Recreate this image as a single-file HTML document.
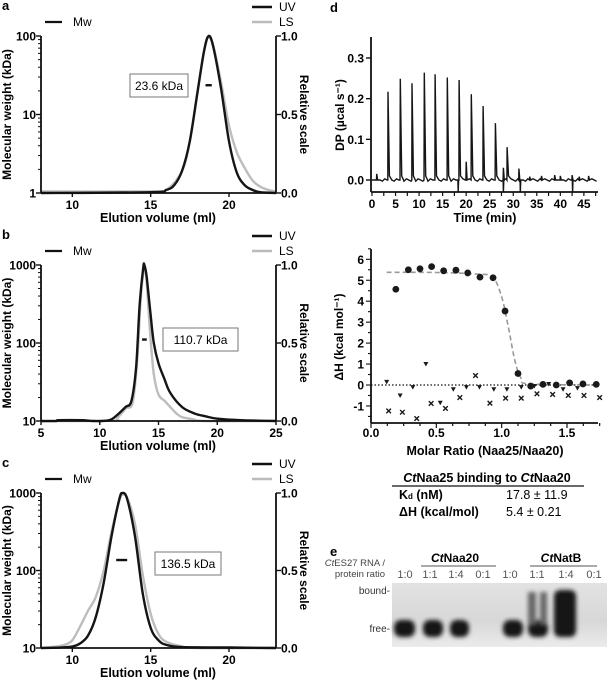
<!DOCTYPE html>
<html><head><meta charset="utf-8">
<style>
html,body{margin:0;padding:0;background:#fff;}
svg{display:block;font-family:"Liberation Sans",Arial,sans-serif;}
.b{font-weight:bold;}
</style></head>
<body>
<svg id="fig" width="607" height="685" viewBox="0 0 607 685" xmlns="http://www.w3.org/2000/svg">
<defs>
<linearGradient id="gelg" x1="0" y1="0" x2="0" y2="1">
<stop offset="0" stop-color="#e2e2e2"/><stop offset="0.6" stop-color="#d8d8d8"/><stop offset="1" stop-color="#ebebeb"/>
</linearGradient>
<filter id="blur" x="-30%" y="-30%" width="160%" height="160%"><feGaussianBlur stdDeviation="2"/></filter>
</defs>
</svg>
<script>
// ---------- DATA ----------
const aUV=[[8,0],[15,0.005],[16,0.02],[16.5,0.05],[17,0.14],[17.5,0.33],[18,0.65],[18.4,0.9],[18.7,1.0],[19,0.93],[19.5,0.66],[20,0.33],[20.5,0.13],[21,0.05],[21.5,0.02],[22,0.005],[23,0]];
const aLS=[[8,0.01],[15,0.01],[16,0.02],[17,0.14],[17.5,0.33],[18,0.65],[18.5,0.95],[18.7,0.99],[19,0.94],[19.5,0.7],[20,0.43],[20.5,0.26],[21,0.16],[21.5,0.08],[22,0.04],[22.5,0.02],[23,0.01]];
const aMw=[[18.5,23.6],[18.9,23.6]];
const bUV=[[5,0],[6.3,0],[6.5,0.005],[8.5,0.005],[9.5,0],[10.8,0.005],[11.5,0.04],[12.2,0.09],[12.7,0.13],[13.1,0.35],[13.4,0.75],[13.7,0.98],[13.8,1.0],[14.0,0.92],[14.3,0.7],[14.6,0.5],[15,0.37],[15.5,0.27],[16,0.18],[17,0.09],[18,0.05],[19,0.03],[20,0.015],[22,0.005],[25,0]];
const bLS=[[5,0],[11,0.002],[11.5,0.02],[12.2,0.08],[12.8,0.12],[13.2,0.4],[13.5,0.8],[13.8,0.98],[14.0,0.88],[14.3,0.55],[14.6,0.3],[15,0.17],[15.5,0.13],[16,0.09],[16.5,0.05],[17,0.025],[18,0.01],[19,0],[25,0]];
const bMw=[[13.6,110.7],[14.0,110.7]];
const cUV=[[8,0],[9,0.002],[10,0.01],[10.5,0.03],[11,0.08],[11.5,0.2],[12,0.42],[12.5,0.72],[13,0.96],[13.2,1.0],[13.5,0.96],[14,0.72],[14.5,0.35],[15,0.13],[15.5,0.05],[16,0.02],[17,0.006],[20,0.003],[23,0]];
const cLS=[[8,0],[9,0.01],[9.5,0.02],[10,0.05],[10.5,0.14],[11,0.24],[11.5,0.33],[12,0.5],[12.5,0.75],[13,0.95],[13.2,0.99],[13.5,0.97],[14,0.8],[14.5,0.47],[15,0.22],[15.5,0.09],[16,0.04],[17,0.01],[18,0],[23,0]];
const cMw=[[12.8,136.5],[13.5,136.5]];
const injTimes=[3.4,6.0,8.5,11.1,13.4,16.0,18.5,21.1,23.6,26.2,28.7];
const injPeaks=[0.217,0.249,0.238,0.264,0.260,0.252,0.246,0.211,0.182,0.140,0.081];
const smallSpikeTimes=[1.0,20.0,27.9,31.2,33.5,36.0,38.8,40.0,42.5,44.0,46.0];
const smallSpikeVals=[0.015,0.045,0.03,0.028,0.008,0.01,0.012,0.01,0.012,0.008,0.01];
const negSpikeTimes=[18.3,27.9,31.5,42.6];
const negSpikeVals=[-0.03,-0.03,-0.03,-0.03];
const dpTicks=[0,5,10,15,20,25,30,35,40,45];
const isoX=[0.19,0.286,0.375,0.464,0.556,0.65,0.74,0.834,0.934,1.026,1.125,1.222,1.316,1.418,1.52,1.622,1.724];
const isoY=[4.57,5.5,5.55,5.65,5.45,5.48,5.35,5.15,5.12,3.53,0.55,-0.05,0.03,0.0,0.1,0.05,0.03];
const triX=[0.12,0.223,0.32,0.42,0.53,0.63,0.73,0.83,0.94,1.04,1.15,1.25,1.36,1.47,1.58];
const triY=[0.15,-0.5,-0.1,1.0,-0.85,-0.2,-0.1,-0.1,-0.2,-0.2,-0.1,-0.05,0.05,-0.2,-0.15];
const crossX=[0.135,0.24,0.35,0.46,0.57,0.68,0.8,0.91,1.03,1.15,1.27,1.39,1.51,1.63,1.75];
const crossY=[-1.24,-1.3,-1.6,-0.88,-1.12,-0.6,0.45,-0.87,-0.63,-0.63,-0.42,-0.45,-0.5,-0.5,-0.6];
const fitX=[0.12,0.5,0.8,0.93,1.0,1.05,1.1,1.15,1.22,1.75];
const fitY=[5.38,5.37,5.3,5.15,4.2,2.8,1.2,0.3,0.05,0];
const isoYTicks=[-1,0,1,2,3,4,5,6];
const isoXTicks=[0.0,0.5,1.0,1.5];

// ---------- HELPERS ----------
const NS="http://www.w3.org/2000/svg";
const svg=document.getElementById('fig');
function mk(tag,attrs,parent){const e=document.createElementNS(NS,tag);for(const k in attrs)e.setAttribute(k,attrs[k]);(parent||svg).appendChild(e);return e;}
function txt(x,y,s,attrs,parent){const e=mk('text',Object.assign({x:x,y:y},attrs||{}),parent);e.textContent=s;return e;}
function lin(d0,d1,r0,r1){return v=>r0+(v-d0)/(d1-d0)*(r1-r0);}
function logs(d0,d1,r0,r1){return v=>r0+(Math.log10(v)-Math.log10(d0))/(Math.log10(d1)-Math.log10(d0))*(r1-r0);}
function smooth(pts){let d='M'+pts[0][0].toFixed(1)+','+pts[0][1].toFixed(1);
  for(let i=0;i<pts.length-1;i++){const p0=pts[Math.max(0,i-1)],p1=pts[i],p2=pts[i+1],p3=pts[Math.min(pts.length-1,i+2)];
    const c1=[p1[0]+(p2[0]-p0[0])/6,p1[1]+(p2[1]-p0[1])/6],c2=[p2[0]-(p3[0]-p1[0])/6,p2[1]-(p3[1]-p1[1])/6];
    d+='C'+c1[0].toFixed(1)+','+c1[1].toFixed(1)+' '+c2[0].toFixed(1)+','+c2[1].toFixed(1)+' '+p2[0].toFixed(1)+','+p2[1].toFixed(1);}
  return d;}

// ---------- SEC-MALS PANELS ----------
function secPanel(o){
  const g=mk('g',{});
  
  
  const L=41,R=276;
  const x=lin(o.x0,o.x1,L,R), yr=lin(0,1,o.bot,o.top), yl=logs(o.lmin,o.lmax,o.bot,o.top);
  const lab=txt(2,o.top-26,o.id,{class:'b','font-size':13},g);
  
  
  mk('line',{x1:45,x2:62,y1:o.top-14,y2:o.top-14,stroke:'#111','stroke-width':2.2},g);
  const lm=txt(73,o.top-10,'Mw',{'font-size':12},g);
  
  
  mk('line',{x1:252,x2:272,y1:o.top-29,y2:o.top-29,stroke:'#111','stroke-width':2.4},g);
  const lu=txt(279,o.top-25,'UV',{'font-size':12},g);
  
  
  mk('line',{x1:252,x2:272,y1:o.top-14,y2:o.top-14,stroke:'#bbb','stroke-width':2.4},g);
  const ll=txt(279,o.top-10,'LS',{'font-size':12},g);
  
  
  const path=(arr,col,w)=>mk('path',{d:smooth(arr.map(p=>[x(p[0]),yr(p[1])])),fill:'none',stroke:col,'stroke-width':w,'stroke-linejoin':'round'},g);
  const pls=path(o.ls,'#bdbdbd',2.4);
  
  
  const puv=path(o.uv,'#151515',2.4);
  
  
  const mw=mk('line',{x1:x(o.mw[0][0]),x2:x(o.mw[1][0]),y1:yl(o.mw[0][1]),y2:yl(o.mw[1][1]),stroke:'#111','stroke-width':2.4},g);
  
  
  mk('line',{x1:L,x2:L,y1:o.top,y2:o.bot,stroke:'#111','stroke-width':1.8},g);
  mk('line',{x1:R,x2:R,y1:o.top,y2:o.bot,stroke:'#111','stroke-width':1.8},g);
  mk('line',{x1:L,x2:R,y1:o.bot,y2:o.bot,stroke:'#111','stroke-width':1.8},g);
  for(let dec=o.lmin;dec<o.lmax;dec*=10){for(let k=1;k<10;k++){const yy=yl(dec*k);mk('line',{x1:L-(k==1?5:3),x2:L,y1:yy,y2:yy,stroke:'#111','stroke-width':1},g);}}
  for(let dec=o.lmin;dec<=o.lmax;dec*=10){const yy=yl(dec);mk('line',{x1:L-5,x2:L,y1:yy,y2:yy,stroke:'#111','stroke-width':1.4},g);txt(L-5,yy+4.5,String(dec),{class:'b','font-size':12,'text-anchor':'end'},g);}
  [0,0.5,1].forEach(v=>{const yy=yr(v);mk('line',{x1:R,x2:R+5,y1:yy,y2:yy,stroke:'#111','stroke-width':1.4},g);txt(R+5,yy+4.5,v.toFixed(1),{class:'b','font-size':12},g);});
  o.xt.forEach(v=>{const xx=x(v);mk('line',{x1:xx,x2:xx,y1:o.bot,y2:o.bot+4,stroke:'#111','stroke-width':1.4},g);txt(xx,o.bot+16,String(v),{class:'b','font-size':12,'text-anchor':'middle'},g);});
  const xt=txt(158,o.bot+29,'Elution volume (ml)',{class:'b','font-size':12.5,'text-anchor':'middle'},g);
  
  
  const yt=txt(0,0,'Molecular weight (kDa)',{class:'b','font-size':12,'text-anchor':'middle',transform:'translate(11,'+((o.top+o.bot)/2)+') rotate(-90)'},g);
  
  
  const yt2=txt(0,0,'Relative scale',{class:'b','font-size':12,'text-anchor':'middle',transform:'translate(300,'+((o.top+o.bot)/2)+') rotate(90)'},g);
  
  
  const bx=mk('rect',{x:o.box[0],y:o.box[1],width:o.box[2],height:23,fill:'#fff',stroke:'#777','stroke-width':1},g);
  
  
  txt(o.box[0]+o.box[2]/2,o.box[1]+16,o.label,{'font-size':12,'text-anchor':'middle'},g);
}
secPanel({id:'a',x0:8,x1:23,top:36,bot:193,lmin:1,lmax:100,uv:aUV,ls:aLS,mw:aMw,xt:[10,15,20],box:[130,74,58],label:'23.6 kDa'});
secPanel({id:'b',x0:5,x1:25,top:265,bot:421,lmin:10,lmax:1000,uv:bUV,ls:bLS,mw:bMw,xt:[5,10,15,20,25],box:[163,328,75],label:'110.7 kDa'});
secPanel({id:'c',x0:8,x1:23,top:493,bot:648,lmin:10,lmax:1000,uv:cUV,ls:cLS,mw:cMw,xt:[10,15,20],box:[155,552,66],label:'136.5 kDa'});

// ---------- PANEL D TOP ----------
(function(){
  const g=mk('g',{});
  
  
  const L=371,R=598,x=lin(0,48,372,598),y=lin(0,0.3,180,58),bot=192,top=37;
  const dl=txt(330,12,'d',{class:'b','font-size':13},g);
  
  
  let ev=[];
  injTimes.forEach((t,i)=>ev.push([t,injPeaks[i],0.3]));
  smallSpikeTimes.forEach((t,i)=>ev.push([t,smallSpikeVals[i],0.2]));
  negSpikeTimes.forEach((t,i)=>ev.push([t,negSpikeVals[i],0.1]));
  ev.sort((a,b)=>a[0]-b[0]);
  let d='M'+x(0)+','+y(0);
  let tcur=0;
  ev.forEach((e,i)=>{
    for(let t=tcur+0.5;t<e[0]-0.1;t+=0.5){d+='L'+x(t).toFixed(1)+','+(y(0)+((i+Math.round(t*2))%3-1)*1.2).toFixed(1);}
    d+='L'+x(e[0]-0.05).toFixed(1)+','+y(0).toFixed(1)+'L'+x(e[0]).toFixed(1)+','+y(e[1]).toFixed(1)+'L'+x(e[0]+e[2]).toFixed(1)+','+y(e[1]>0.05?0.01:0).toFixed(1);
    tcur=e[0]+e[2];
  });
  for(let t=tcur+0.5;t<=48;t+=0.5){d+='L'+x(t).toFixed(1)+','+(y(0)+(Math.round(t*2)%3-1)*1.2).toFixed(1);}
  const p=mk('path',{d:d,fill:'none',stroke:'#151515','stroke-width':1.4},g);
  
  
  mk('line',{x1:L,x2:L,y1:top,y2:bot,stroke:'#111','stroke-width':1.8},g);
  mk('line',{x1:L,x2:R,y1:bot,y2:bot,stroke:'#111','stroke-width':1.8},g);
  [0,0.1,0.2,0.3].forEach(v=>{mk('line',{x1:L-5,x2:L,y1:y(v),y2:y(v),stroke:'#111','stroke-width':1.4},g);txt(L-7,y(v)+4.5,v.toFixed(1),{class:'b','font-size':12,'text-anchor':'end'},g);});
  for(let t=0;t<=47.5;t+=2.5){mk('line',{x1:x(t),x2:x(t),y1:bot,y2:bot+4,stroke:'#111','stroke-width':1.2},g);}
  dpTicks.forEach(v=>txt(x(v),bot+16,String(v),{class:'b','font-size':12,'text-anchor':'middle'},g));
  const xt=txt(485,222,'Time (min)',{class:'b','font-size':12.5,'text-anchor':'middle'},g);
  
  
  const yt=txt(0,0,'DP (µcal s⁻¹)',{class:'b','font-size':12,'text-anchor':'middle',transform:'translate(344,115) rotate(-90)'},g);
  
  
})();

// ---------- PANEL D BOTTOM ----------
(function(){
  const g=mk('g',{});
  
  
  const L=371,R=598,x=lin(0,1.5,371,567),y=lin(0,6,385,259.3),bot=423,top=249;
  const z=mk('line',{x1:L,x2:R,y1:y(0),y2:y(0),stroke:'#111','stroke-width':1.2,'stroke-dasharray':'1.5,2'},g);
  
  
  const f=mk('path',{d:smooth(fitX.map((v,i)=>[x(v),y(fitY[i])])),fill:'none',stroke:'#999','stroke-width':1.6,'stroke-dasharray':'5,3'},g);
  
  
  isoX.forEach((v,i)=>{const c=mk('circle',{cx:x(v),cy:y(isoY[i]),r:3.4,fill:'#1a1a1a'},g);
    
    });
  triX.forEach((v,i)=>{const cx=x(v),cy=y(triY[i]);const t=mk('path',{d:`M${cx-2.5},${cy-2}L${cx+2.5},${cy-2}L${cx},${cy+2.5}Z`,fill:'#1a1a1a'},g);
    
    });
  crossX.forEach((v,i)=>{const cx=x(v),cy=y(crossY[i]);const t=mk('path',{d:`M${cx-2.3},${cy-2.3}L${cx+2.3},${cy+2.3}M${cx+2.3},${cy-2.3}L${cx-2.3},${cy+2.3}`,stroke:'#1a1a1a','stroke-width':1.4},g);
    
    });
  mk('line',{x1:L,x2:L,y1:top,y2:bot,stroke:'#111','stroke-width':1.8},g);
  mk('line',{x1:L,x2:R,y1:bot,y2:bot,stroke:'#111','stroke-width':1.8},g);
  for(let v=-1.5;v<=6.5;v+=0.5){mk('line',{x1:L-(v%1==0?5:3),x2:L,y1:y(v),y2:y(v),stroke:'#111','stroke-width':1.1},g);}
  isoYTicks.forEach(v=>txt(L-7,y(v)+4.5,String(v),{class:'b','font-size':12,'text-anchor':'end'},g));
  for(let v=0;v<=1.75;v+=0.125){mk('line',{x1:x(v),x2:x(v),y1:bot,y2:bot+(v%0.5==0?5:3),stroke:'#111','stroke-width':1.2},g);}
  isoXTicks.forEach(v=>txt(x(v),bot+14,v.toFixed(1),{class:'b','font-size':12,'text-anchor':'middle'},g));
  const xt=txt(485,455,'Molar Ratio (Naa25/Naa20)',{class:'b','font-size':12.5,'text-anchor':'middle'},g);
  
  
  const yt=txt(0,0,'ΔH (kcal mol⁻¹)',{class:'b','font-size':12,'text-anchor':'middle',transform:'translate(343,337) rotate(-90)'},g);
  
  
})();

// ---------- TABLE ----------
(function(){
  const g=mk('g',{});
  
  
  const h=mk('text',{x:487,y:482,'text-anchor':'middle','font-size':12.5,class:'b'},g);
  h.innerHTML='<tspan font-style="italic">Ct</tspan>Naa25 binding  to <tspan font-style="italic">Ct</tspan>Naa20';
  mk('line',{x1:392,x2:584,y1:486,y2:486,stroke:'#111','stroke-width':1.2},g);
  const k=mk('text',{x:399,y:499,'font-size':12.5,class:'b'},g);
  k.innerHTML='K<tspan font-size="8">d</tspan> (nM)';
  txt(506,499,'17.8 ± 11.9',{'font-size':12.5},g);
  txt(399,516,'ΔH (kcal/mol)',{'font-size':12.5,class:'b'},g);
  txt(506,516,'5.4 ± 0.21',{'font-size':12.5},g);
})();

// ---------- GEL ----------
(function(){
  const g=mk('g',{});
  
  
  const el=txt(330,556,'e',{class:'b','font-size':13},g);
  
  
  const h1=mk('text',{x:455,y:562,'text-anchor':'middle','font-size':12,class:'b'},g);
  h1.innerHTML='<tspan font-style="italic">Ct</tspan>Naa20';
  mk('line',{x1:421,x2:496,y1:566,y2:566,stroke:'#555','stroke-width':1},g);
  const h2=mk('text',{x:561,y:562,'text-anchor':'middle','font-size':12,class:'b'},g);
  h2.innerHTML='<tspan font-style="italic">Ct</tspan>NatB';
  mk('line',{x1:530,x2:597,y1:566,y2:566,stroke:'#555','stroke-width':1},g);
  const rl=mk('text',{x:385,y:566,'text-anchor':'end','font-size':9.5,fill:'#444'},g);
  rl.innerHTML='<tspan font-style="italic">Ct</tspan>ES27 RNA /';
  txt(385,577,'protein ratio',{'font-size':9.5,'text-anchor':'end',fill:'#444'},g);
  const ratios=['1:0','1:1','1:4','0:1','1:0','1:1','1:4','0:1'];
  const rx=[405,430,456,483,510,537,566,594];
  ratios.forEach((r,i)=>txt(rx[i],578,r,{'font-size':11,'text-anchor':'middle',fill:'#555'},g));
  const gel=mk('rect',{x:392,y:583,width:215,height:64,fill:'url(#gelg)'},g);
  
  
  txt(390,594,'bound-',{'font-size':10,'text-anchor':'end',fill:'#333'},g);
  txt(390,632,'free-',{'font-size':10,'text-anchor':'end',fill:'#333'},g);
  const bg=mk('g',{filter:'url(#blur)'},g);
  [[394,21],[423,20],[450,19],[503,20],[528,20]].forEach(b=>{mk('rect',{x:b[0],y:620,width:b[1],height:17,rx:7,fill:'#151515'},bg);});
  mk('rect',{x:528,y:592,width:8,height:32,fill:'#666'},bg);
  mk('rect',{x:540,y:592,width:7,height:32,fill:'#666'},bg);
  mk('rect',{x:554,y:590,width:22,height:47,rx:6,fill:'#181818'},bg);
})();
</script>
</body></html>
